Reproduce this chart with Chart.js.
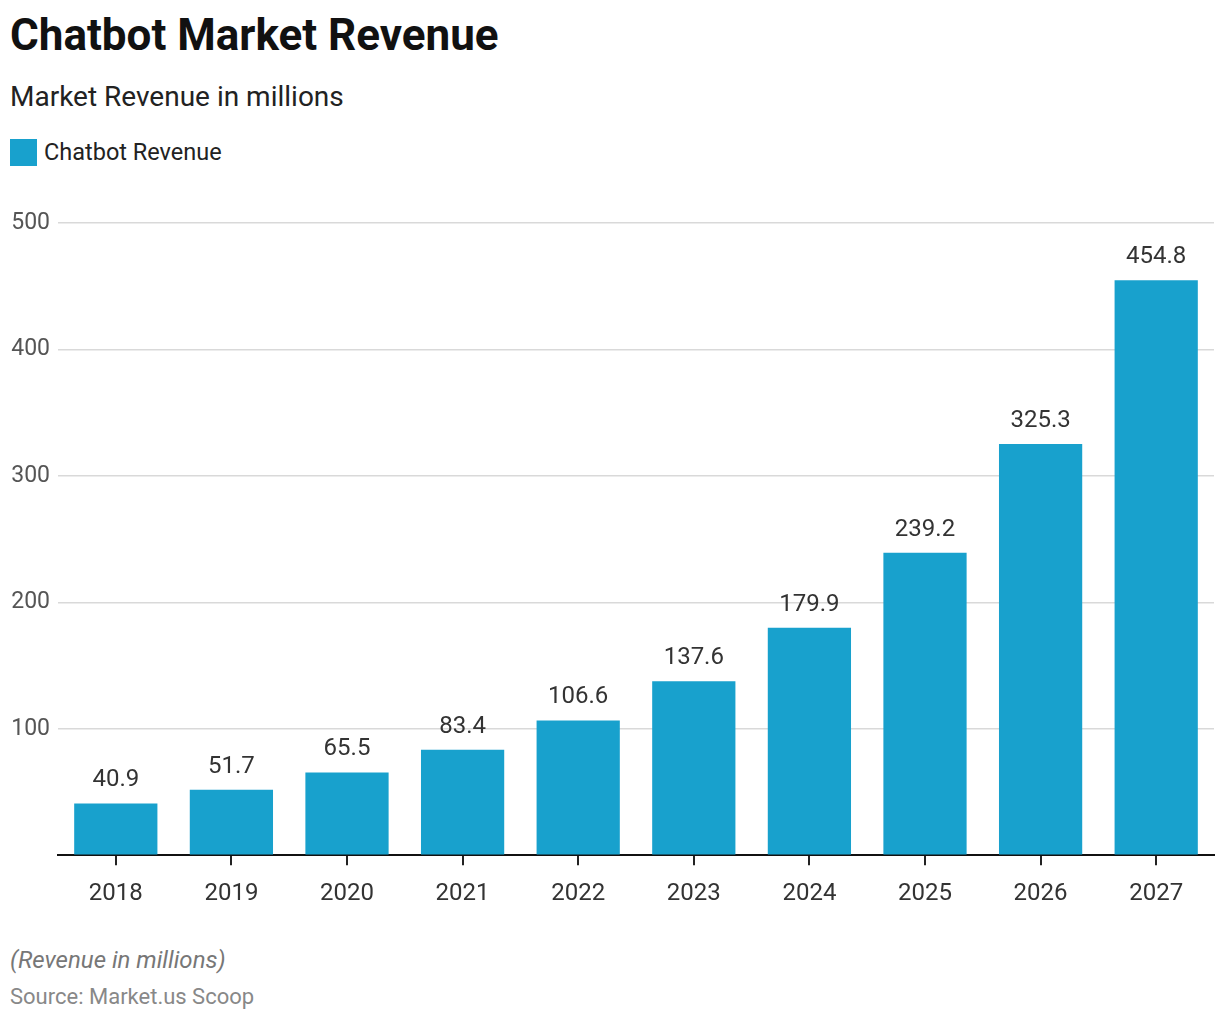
<!DOCTYPE html>
<html>
<head>
<meta charset="utf-8">
<script src="https://cdn.jsdelivr.net/npm/chart.js@4.4.1/dist/chart.umd.min.js"></script>
<style>
  html, body { margin:0; padding:0; background:#fff; }
  body { width:1220px; height:1020px; position:relative; font-family: Roboto, "Noto Sans", sans-serif; overflow:hidden; }
  .t { position:absolute; left:10px; white-space:nowrap; }
  #title { top:10px; font-size:44px; font-weight:700; color:#111; line-height:50px; }
  #sub { top:81px; font-size:28px; color:#222; line-height:32px; }
  #legend { top:139px; font-size:23.5px; color:#222; line-height:27px; display:flex; align-items:center; }
  #legend .sw { width:27px; height:27px; background:#18a1cd; margin-right:7px; }
  #note { top:945px; font-size:24px; font-style:italic; color:#777; line-height:30px; }
  #src { top:983px; font-size:22px; color:#888; line-height:28px; }
  #wrap { position:absolute; left:0; top:190px; width:1220px; height:732px; }
</style>
</head>
<body>
<div class="t" id="title">Chatbot Market Revenue</div>
<div class="t" id="sub">Market Revenue in millions</div>
<div class="t" id="legend"><span class="sw"></span><span>Chatbot Revenue</span></div>
<div id="wrap"><canvas id="c"></canvas></div>
<div class="t" id="note">(Revenue in millions)</div>
<div class="t" id="src">Source: Market.us Scoop</div>
<script>
const years = ["2018","2019","2020","2021","2022","2023","2024","2025","2026","2027"];
const revenue = [40.9, 51.7, 65.5, 83.4, 106.6, 137.6, 179.9, 239.2, 325.3, 454.8];
const yTicks = [100, 200, 300, 400, 500];
const seriesName = "Chatbot Revenue";

const labelPlugin = {
  id: 'barLabels',
  afterDatasetsDraw(chart) {
    const ctx = chart.ctx;
    const meta = chart.getDatasetMeta(0);
    ctx.save();
    ctx.font = '24px Roboto, "Noto Sans", sans-serif';
    ctx.fillStyle = '#333';
    ctx.textAlign = 'center';
    ctx.textBaseline = 'bottom';
    meta.data.forEach((bar, i) => {
      ctx.fillText(revenue[i].toFixed(1), bar.x, bar.y - 11);
    });
    ctx.restore();
  }
};

new Chart(document.getElementById('c'), {
  type: 'bar',
  data: {
    labels: years,
    datasets: [{
      label: seriesName,
      data: revenue,
      backgroundColor: '#18a1cd',
      borderWidth: 0,
      categoryPercentage: 1.0,
      barPercentage: 0.72
    }]
  },
  options: {
    responsive: true,
    maintainAspectRatio: false,
    animation: false,
    layout: { padding: { top: 33, right: 6, left: 0, bottom: 0 } },
    plugins: {
      legend: { display: false },
      title: { display: false },
      tooltip: { enabled: false }
    },
    scales: {
      x: {
        offset: true,
        grid: { display: true, offset: false, drawOnChartArea: false, drawTicks: true, tickLength: 10, color: '#222', lineWidth: 2 },
        border: { display: true, color: '#111', width: 2 },
        ticks: { color: '#333', font: { size: 24, family: 'Roboto' }, padding: 14, maxRotation: 0 }
      },
      y: {
        min: 0, max: 500,
        afterFit(scale) { scale.width = 58; },
        afterBuildTicks(scale) { scale.ticks = [0].concat(yTicks).map(v => ({ value: v })); },
        grid: {
          drawTicks: false,
          color: (c) => c.tick && c.tick.value === 0 ? 'rgba(0,0,0,0)' : '#d9d9d9',
          lineWidth: 1.5
        },
        border: { display: false },
        ticks: {
          color: '#555',
          font: { size: 23, family: 'Roboto' },
          padding: 8,
          callback: (v) => v === 0 ? '' : String(v)
        }
      }
    }
  },
  plugins: [labelPlugin]
});
</script>
</body>
</html>
